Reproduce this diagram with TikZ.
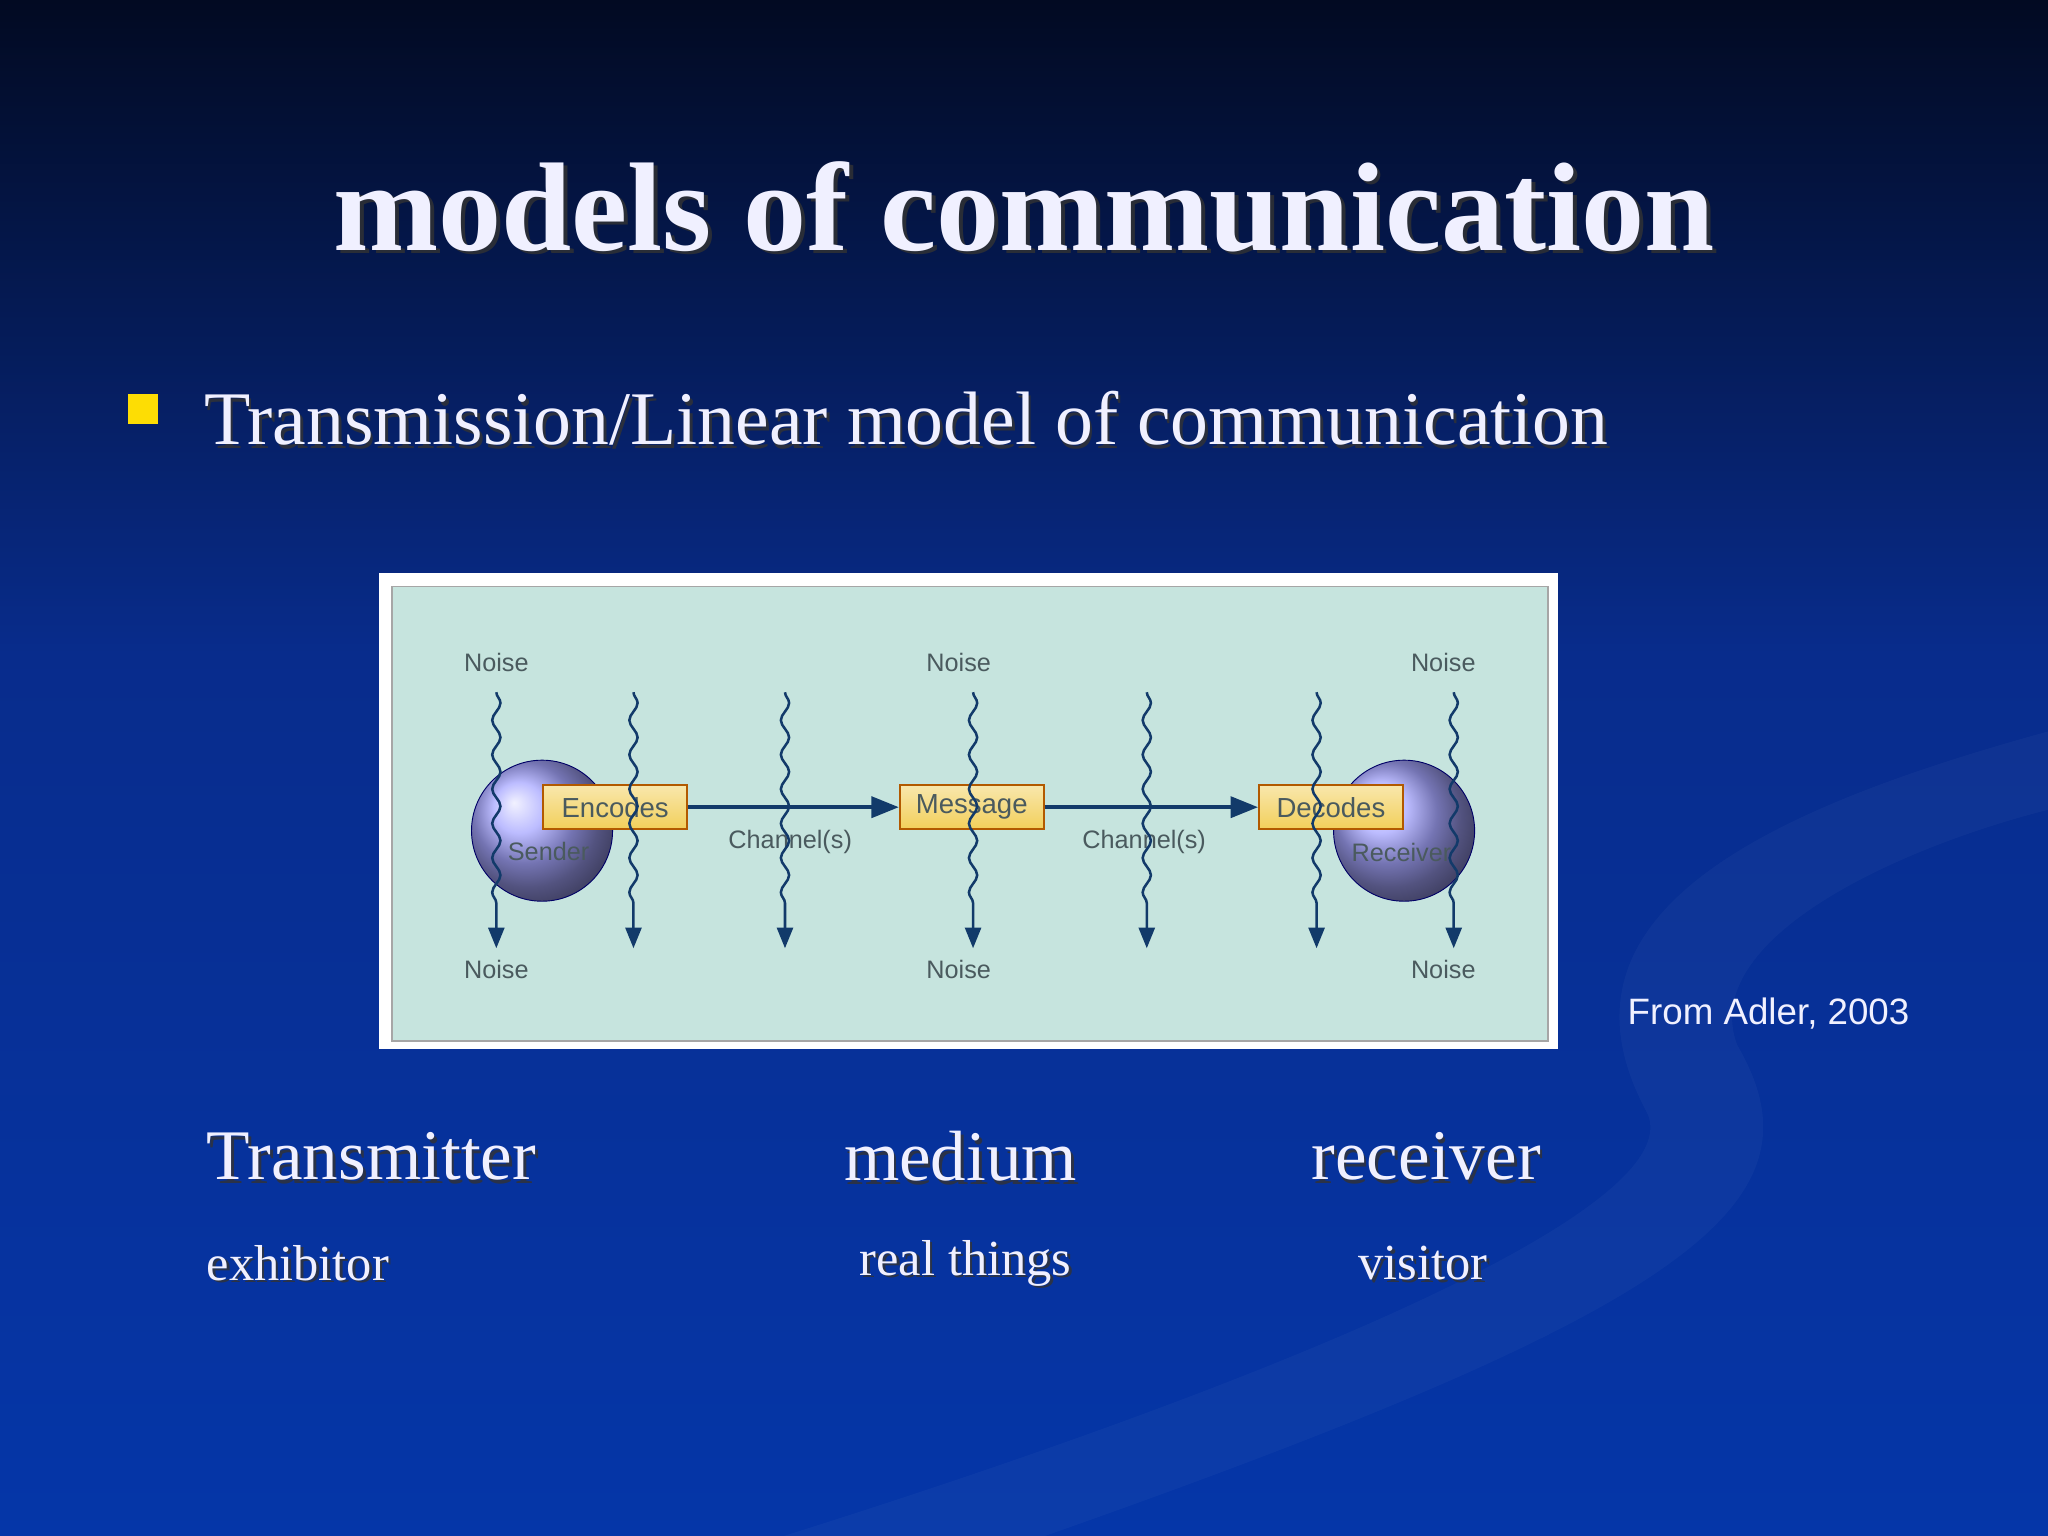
\documentclass[tikz,border=0pt]{standalone}
\usepackage{fontspec}
\setmainfont{Liberation Serif}
\newfontfamily\sansf{Liberation Sans}
\usetikzlibrary{decorations.pathmorphing,arrows.meta,shadings}
\definecolor{bgtop}{HTML}{020A22}
\definecolor{bgmid}{HTML}{082C8C}
\definecolor{bgbot}{HTML}{0536A8}
\definecolor{panel}{HTML}{C6E4DE}
\definecolor{boxy}{HTML}{F2CF5A}
\definecolor{arrowc}{HTML}{123A6A}
\definecolor{labc}{HTML}{4A5A5E}
\definecolor{txtw}{HTML}{F0F0FF}
\tikzset{
  x=0.02cm,y=-0.02cm,
  sh/.style={text=black!80,opacity=0.8},
  wt/.style={text=txtw},
  noise/.style={font=\sansf\fontsize{11}{13}\selectfont,text=labc},
  wavy/.style={draw=arrowc,line width=1.1pt,decorate,decoration={snake,amplitude=1.8pt,segment length=15pt,post length=14pt},-{Triangle[length=9pt,width=7pt]}},
  msgbox/.style={draw=orange!70!black,line width=0.8pt,top color=boxy!50!white,bottom color=boxy,minimum width=110*0.02cm,minimum height=34*0.02cm,font=\sansf\fontsize{12}{14}\selectfont,text=labc},
  flow/.style={draw=arrowc,line width=2pt,-{Triangle[length=12pt,width=9pt]}},
  sphere/.style={circle,minimum size=108*0.02cm,draw=blue!40!black,ball color=blue!35!white},
}
\begin{document}
\begin{tikzpicture}
\shade[top color=bgtop,bottom color=bgmid] (0,0) rectangle (1568,500);
\shade[top color=bgmid,bottom color=bgbot] (0,500) rectangle (1568,1176);
\fill[white,opacity=0.03] (1568,560) .. controls (1350,620) and (1180,700) .. (1260,850) .. controls (1300,920) and (1000,1050) .. (600,1176) -- (800,1176) .. controls (1300,1000) and (1400,920) .. (1330,800) .. controls (1300,720) and (1450,650) .. (1568,620) -- cycle;
% title
\node[sh] (tsh) at (787,161) {\fontsize{55}{60}\selectfont\bfseries models of communication};
\node[wt] (title) at (784,158) {\fontsize{55}{60}\selectfont\bfseries models of communication};
\fill[yellow!80!orange] (98,302) rectangle (121,325);
\node[sh,anchor=west] (bsh) at (152,323) {\fontsize{33}{38}\selectfont Transmission/Linear model of communication};
\node[wt,anchor=west] (bullet) at (150,320) {\fontsize{33}{38}\selectfont Transmission/Linear model of communication};
% diagram
\fill[white] (290,439) rectangle (1193,803);
\fill[panel] (300,449) rectangle (1185,797);
\draw[gray!70,line width=0.8pt] (300,449) rectangle (1185,797);
\node[sphere] (sender) at (415,636) {};
\node[sphere] (receiver) at (1075,636) {};
\node[noise] (sl) at (420,652) {Sender};
\node[noise] (rl) at (1073,653) {Receiver};
\node[msgbox] (enc) at (471,618) {Encodes};
\node[msgbox] (msg) at (744,618) {Message};
\node[msgbox] (dec) at (1019,618) {Decodes};
\draw[flow] (enc) -- (msg);
\draw[flow] (msg) -- (dec);
\node[noise] (ch1) at (605,645) {Channel(s)};
\node[noise] (ch2) at (876,645) {Channel(s)};
\foreach \x/\n in {380/a,485/b,601/c,745/d,878/e,1008/f,1113/g}{
  \coordinate (t\n) at (\x,530); \coordinate (b\n) at (\x,726);
  \draw[wavy] (t\n) -- (b\n);
}
\node[noise] (n1) at (380,507) {Noise};
\node[noise] (n2) at (734,507) {Noise};
\node[noise] (n3) at (1105,507) {Noise};
\node[noise] (n4) at (380,742) {Noise};
\node[noise] (n5) at (734,742) {Noise};
\node[noise] (n6) at (1105,742) {Noise};
\node[wt,anchor=west] (src) at (1240,776) {\sansf\fontsize{16}{19}\selectfont From Adler, 2003};
% bottom
\foreach \x/\t/\nm in {152/Transmitter/p,640/medium/q,998/receiver/r}{
  \node[sh,anchor=west] (\nm s) at (\x+2,888) {\fontsize{31}{35}\selectfont \t};
  \node[wt,anchor=west] (\nm) at (\x,885) {\fontsize{31}{35}\selectfont \t};
}
\foreach \x/\t/\nm in {152/exhibitor/u,652/real things/v,1034/visitor/w}{
  \node[sh,anchor=west] (\nm s) at (\x+2,969) {\fontsize{22}{26}\selectfont \t};
  \node[wt,anchor=west] (\nm) at (\x,967) {\fontsize{22}{26}\selectfont \t};
}
\end{tikzpicture}
\end{document}
